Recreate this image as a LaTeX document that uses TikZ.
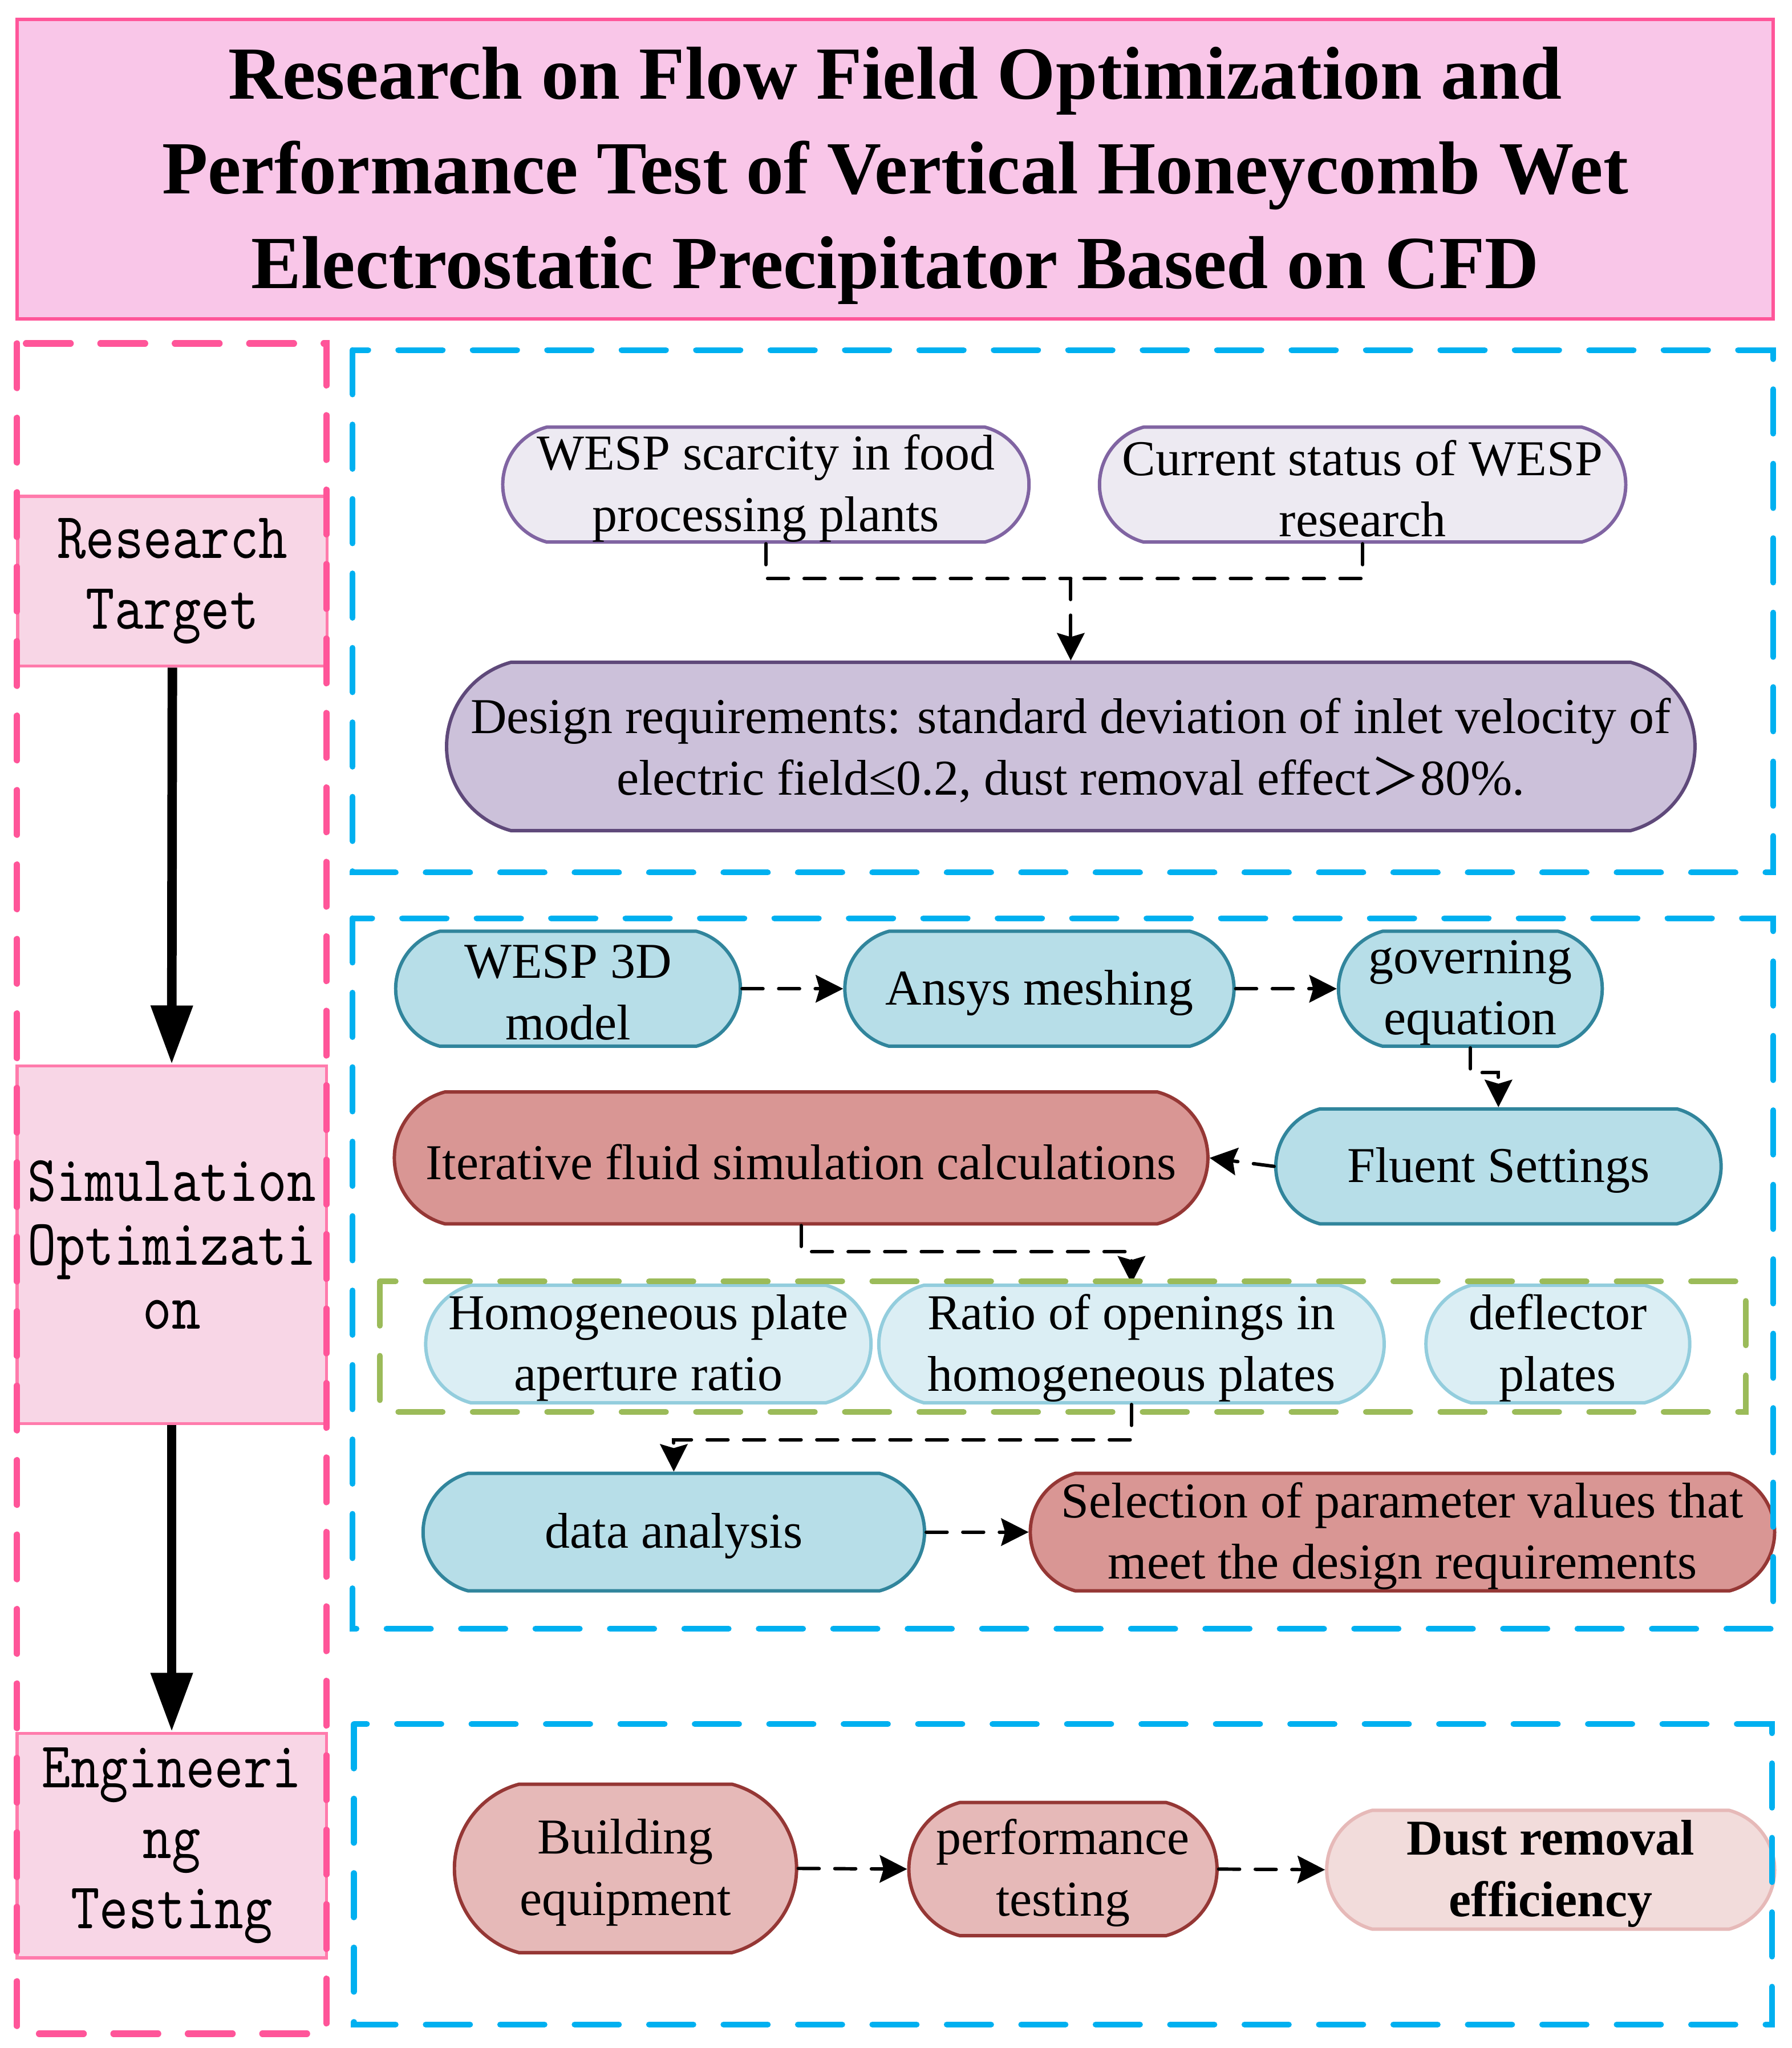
\documentclass[tikz,border=0pt]{standalone}
\usepackage{fontspec}
\setmainfont{Liberation Serif}
\newfontfamily\cjk{Noto Sans CJK SC}
\newfontfamily\sidefont{lmmono10-regular.otf}[FakeStretch=0.84]
\usetikzlibrary{arrows.meta,shapes.misc}
\definecolor{titlefill}{HTML}{F9C6E8}
\definecolor{titleline}{HTML}{FF5599}
\definecolor{sidefill}{HTML}{F8D6E6}
\definecolor{sideline}{HTML}{FF7BAC}
\definecolor{cyanline}{HTML}{00B0F0}
\definecolor{greenline}{HTML}{9BBB59}
\definecolor{lavL}{HTML}{EDEAF2}
\definecolor{lavD}{HTML}{8064A2}
\definecolor{purL}{HTML}{CCC1DA}
\definecolor{purD}{HTML}{5F497A}
\definecolor{bluL}{HTML}{B7DEE8}
\definecolor{bluD}{HTML}{31859C}
\definecolor{redL}{HTML}{D99694}
\definecolor{redD}{HTML}{953735}
\definecolor{paleL}{HTML}{DBEEF4}
\definecolor{paleD}{HTML}{93CDDD}
\definecolor{roseL}{HTML}{E6B9B8}
\definecolor{blushL}{HTML}{F2DCDB}
\begin{document}
\begin{tikzpicture}[x=1pt, y=-1pt, >={Stealth[length=21pt,width=21pt,inset=3pt]},
	txt/.style={font=\fontsize{38.4}{47}\selectfont, align=center, yshift=-3pt},
	pill/.style 2 args={rounded rectangle, rounded rectangle arc length=150, draw=#1, fill=#2, line width=2.6pt, inner sep=0pt},
	title/.style={draw=titleline, fill=titlefill, line width=2.5pt, minimum width=1345pt, minimum height=229pt, inner sep=0pt},
	titletxt/.style={align=center, yshift=-5pt, font=\bfseries\fontsize{57.4}{72.5}\selectfont},
	side/.style={draw=sideline, fill=sidefill, line width=2.4pt, minimum width=237pt, inner sep=0pt, align=center, font=\sidefont\fontsize{50}{54}\selectfont},
	link/.style={line width=2.6pt, line cap=round, dash pattern=on 16pt off 12pt},
	frame/.style={line width=4.4pt, line cap=round, dash pattern=on 34pt off 23pt},
	flow/.style={line width=7.3pt, -{Triangle[length=45pt,width=30.6pt]}}]
	\useasboundingbox (0,0) rectangle (1372.3,1568);
	\node[title, label={[titletxt]center:{Research on Flow Field Optimization and\\Performance Test of Vertical Honeycomb Wet\\Electrostatic Precipitator Based on CFD}}] (title) at (685.5,129.5) {};
	\node[side, minimum height=130pt] (target) at (132,445) {Research\\Target};
	\node[side, minimum height=274pt, font=\sidefont\fontsize{50}{49}\selectfont] (simul) at (131.5,953) {Simulation\\Optimizati\\on};
	\node[side, minimum height=172pt] (engin) at (131.5,1413) {Engineeri\\ng\\Testing};
	\draw[flow] (target.south) -- (simul.north);
	\draw[flow] (simul.south) -- (engin.north);

	\node[pill={lavD}{lavL}, minimum width=403pt, minimum height=88pt, label={[txt]center:{WESP scarcity in food\\processing plants}}] (scarcity) at (586.5,371) {};
	\node[pill={lavD}{lavL}, minimum width=403pt, minimum height=88pt, label={[txt]center:{Current status of WESP\\research}}] (status) at (1043.5,371) {};
	\node[pill={purD}{purL}, minimum width=956pt, minimum height=129pt, label={[txt]center:{Design requirements: standard deviation of inlet velocity of\\electric field≤0.2, dust removal effect{\cjk ＞}80\%.}}] (design) at (820,571.5) {};
	\coordinate (fork) at (820,443);
	\draw[link] (scarcity.south) |- (fork);
	\draw[link] (status.south) |- (fork);
	\draw[link,->] (fork) -- (design.north);

	\node[pill={bluD}{bluL}, minimum width=264pt, minimum height=88pt, label={[txt]center:{WESP 3D\\model}}] (model) at (435,757) {};
	\node[pill={bluD}{bluL}, minimum width=298pt, minimum height=88pt, label={[txt]center:{Ansys meshing}}] (mesh) at (796,757) {};
	\node[pill={bluD}{bluL}, minimum width=202pt, minimum height=88pt, label={[txt]center:{governing\\equation}}] (govern) at (1126,757) {};
	\node[pill={bluD}{bluL}, minimum width=341pt, minimum height=88pt, label={[txt]center:{Fluent Settings}}] (fluent) at (1147.5,893) {};
	\node[pill={redD}{redL}, minimum width=623pt, minimum height=101pt, label={[txt]center:{Iterative fluid simulation calculations}}] (iterate) at (613.5,886.5) {};
	\node[pill={paleD}{paleL}, minimum width=341pt, minimum height=90pt, label={[txt]center:{Homogeneous plate\\aperture ratio}}] (aperture) at (496.5,1029) {};
	\node[pill={paleD}{paleL}, minimum width=387pt, minimum height=90pt, label={[txt]center:{Ratio of openings in\\homogeneous plates}}] (openings) at (866.5,1029) {};
	\node[pill={paleD}{paleL}, minimum width=202pt, minimum height=90pt, label={[txt]center:{deflector\\plates}}] (deflector) at (1193,1029) {};
	\node[pill={bluD}{bluL}, minimum width=384pt, minimum height=90pt, label={[txt]center:{data analysis}}] (analysis) at (516,1173) {};
	\node[pill={redD}{redL}, minimum width=570pt, minimum height=90pt, label={[txt]center:{Selection of parameter values that\\meet the design requirements}}] (select) at (1074,1173) {};
	\draw[link,->] (model.east) -- (mesh.west);
	\draw[link,->] (mesh.east) -- (govern.west);
	\draw[link,->] (govern.south) -- ++(0,19) -| (fluent.north);
	\draw[link,->] (fluent.west) -- (iterate.east);
	\draw[link,->] (iterate.south) -- ++(0,20) -| (openings.north);
	\draw[link,->] (openings.south) -- ++(0,27) -| (analysis.north);
	\draw[link,->] (analysis.east) -- (select.west);

	\node[pill={redD}{roseL}, minimum width=262pt, minimum height=129pt, label={[txt]center:{Building\\equipment}}] (build) at (479,1430.5) {};
	\node[pill={redD}{roseL}, minimum width=236pt, minimum height=102pt, label={[txt]center:{performance\\testing}}] (perf) at (814,1431) {};
	\node[pill={roseL}{blushL}, minimum width=343pt, minimum height=91pt, label={[txt, font=\bfseries\fontsize{38.4}{47}\selectfont]center:{Dust removal\\efficiency}}] (dust) at (1187.5,1431.5) {};
	\draw[link,->] (build.east) -- (perf.west);
	\draw[link,->] (perf.east) -- (dust.west);

	\draw[frame, draw=titleline, line width=5pt] (13,263) rectangle (250,1557);
	\draw[frame, draw=cyanline] (270,268) rectangle (1358,668);
	\draw[frame, draw=cyanline] (270,703) rectangle (1358,1247);
	\draw[frame, draw=cyanline] (271,1320) rectangle (1357,1550);
	\draw[frame, draw=greenline] (291,981) rectangle (1337,1081);
\end{tikzpicture}
\end{document}
